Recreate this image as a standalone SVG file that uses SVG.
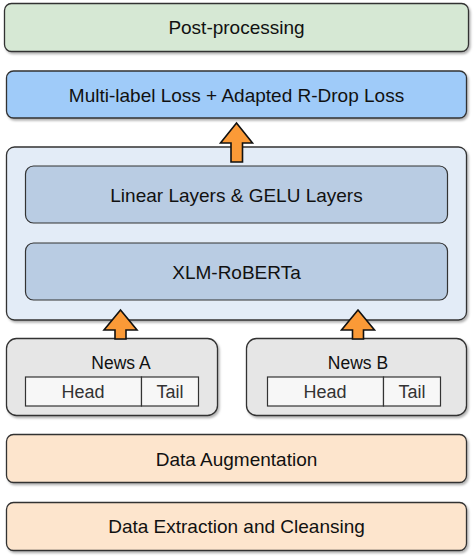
<svg xmlns="http://www.w3.org/2000/svg" width="474" height="556" viewBox="0 0 474 556">
<defs>
<filter id="sh" x="-5%" y="-10%" width="110%" height="130%">
<feDropShadow dx="1.5" dy="2" stdDeviation="1" flood-color="#000" flood-opacity="0.3"/>
</filter>
</defs>
<style>
text{font-family:"Liberation Sans",Arial,sans-serif;font-size:19px;fill:#111;text-anchor:middle;dominant-baseline:central}
text.sm{font-size:17.5px}
text.cl{font-size:18px;fill:#333}
.box{stroke:#333;stroke-width:1.3;filter:url(#sh)}
.inner{stroke:#333;stroke-width:1.2}
.arrow{fill:#fb9a37;stroke:#111;stroke-width:1.6;stroke-linejoin:miter}
.cell{fill:#f7f7f7;stroke:#333;stroke-width:1.2}
</style>
<rect width="474" height="556" fill="#fff"/>
<g id="post">
<rect class="box" x="4.5" y="3.5" width="464" height="48" rx="7" fill="#d6e8d4"/>
<text x="236.5" y="27">Post-processing</text>
</g>
<g id="loss">
<rect class="box" x="6.5" y="71" width="460" height="47" rx="7" fill="#9fcbf9"/>
<text x="236.5" y="95">Multi-label Loss + Adapted R-Drop Loss</text>
</g>
<g id="model">
<rect class="box" x="6.5" y="147" width="460" height="173" rx="8" fill="#e3ecf7" stroke="#8a9099"/>
</g>
<g id="linear">
<rect class="inner" x="25.5" y="166" width="422" height="57" rx="8" fill="#b9cce3"/>
<text x="236.5" y="195">Linear Layers &amp; GELU Layers</text>
</g>
<g id="xlmr">
<rect class="inner" x="25.5" y="243" width="422" height="57" rx="8" fill="#b9cce3"/>
<text x="236.5" y="272">XLM-RoBERTa</text>
</g>
<g id="newsA">
<rect class="box" x="6.5" y="338.5" width="211" height="77" rx="10" fill="#e6e6e6"/>
<text class="sm" x="121" y="363">News A</text>
<rect class="cell" x="25.5" y="377" width="116" height="29"/>
<rect class="cell" x="141.5" y="377" width="57" height="29"/>
<text class="cl" x="83" y="392">Head</text>
<text class="cl" x="170" y="392">Tail</text>
</g>
<g id="newsB">
<rect class="box" x="246.5" y="338.5" width="220" height="77" rx="10" fill="#e6e6e6"/>
<text class="sm" x="358" y="363">News B</text>
<rect class="cell" x="267.5" y="377" width="116" height="29"/>
<rect class="cell" x="383.5" y="377" width="57" height="29"/>
<text class="cl" x="325" y="392">Head</text>
<text class="cl" x="412" y="392">Tail</text>
</g>
<g id="aug">
<rect class="box" x="6.5" y="434.5" width="460" height="48" rx="7" fill="#fde5cd"/>
<text x="236.5" y="459">Data Augmentation</text>
</g>
<g id="extract">
<rect class="box" x="6.5" y="502.5" width="460" height="48" rx="7" fill="#fde5cd"/>
<text x="236.5" y="526">Data Extraction and Cleansing</text>
</g>
<g id="connectors">
<path class="arrow" d="M236.5 123 L252.5 143 L242.5 143 L242.5 162 L231 162 L231 143 L220.5 143 Z"/>
<path class="arrow" d="M120.5 310 L137 330 L126 330 L126 339 L115 339 L115 330 L104 330 Z"/>
<path class="arrow" d="M358 310 L374.5 330 L363.5 330 L363.5 339 L352.5 339 L352.5 330 L341.5 330 Z"/>
</g>
</svg>
